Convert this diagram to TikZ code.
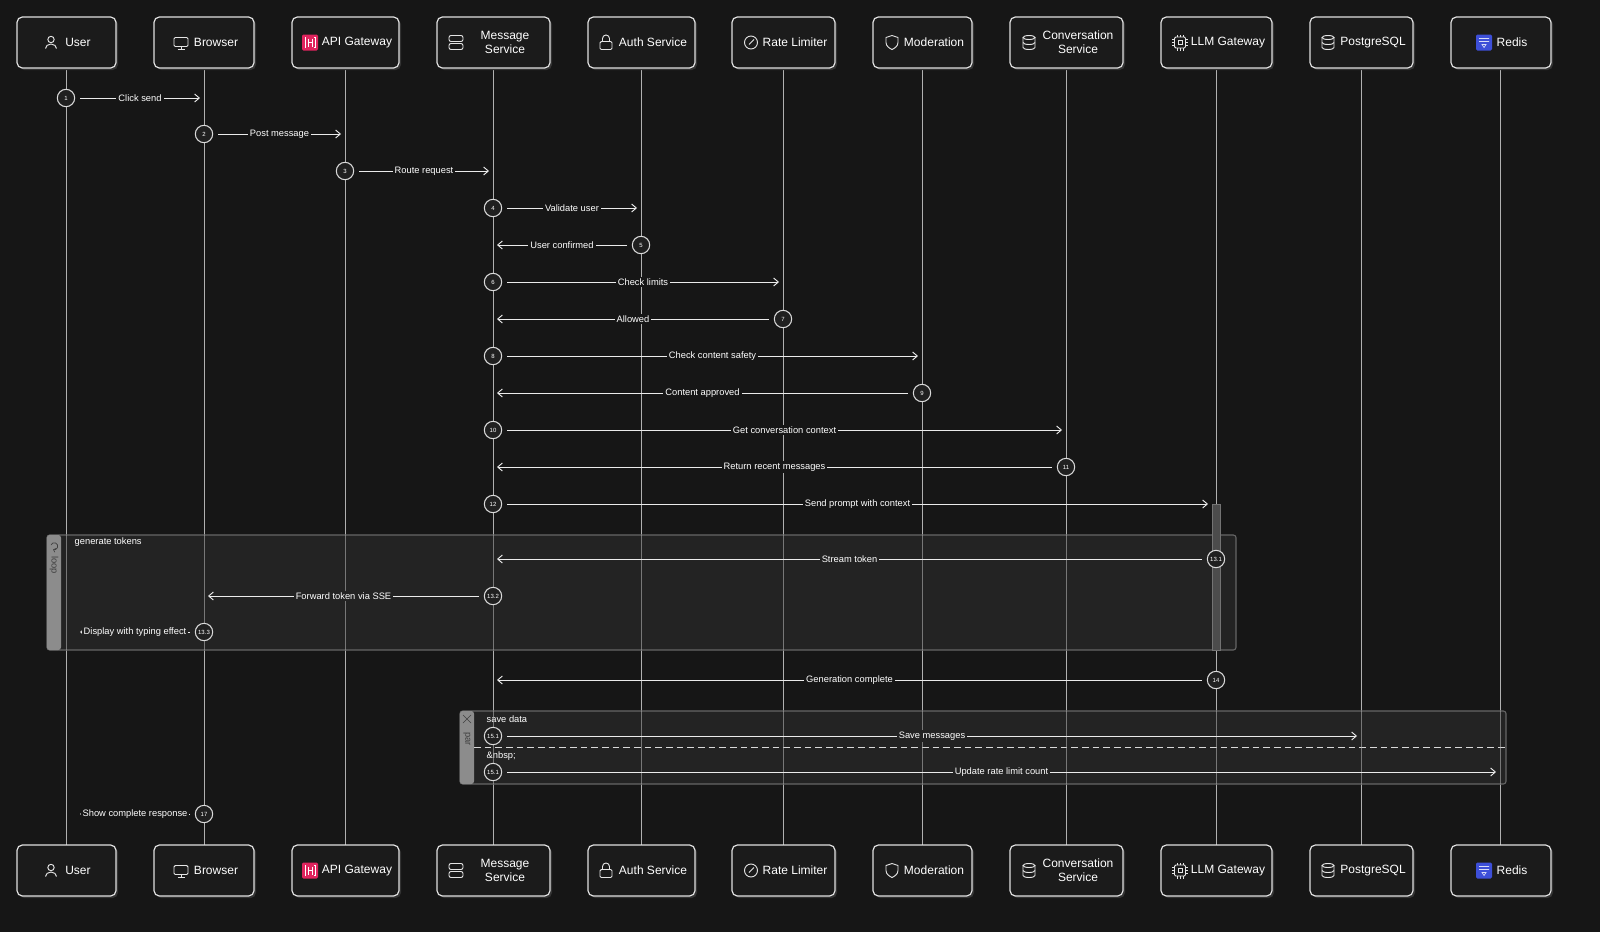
\documentclass[tikz,border=0pt]{standalone}
\usepackage{fontspec}
\setmainfont{Liberation Sans}
\usetikzlibrary{arrows.meta,shapes.geometric}
\definecolor{bg}{HTML}{161616}
\definecolor{boxbg}{HTML}{1B1B1B}
\definecolor{frag}{HTML}{232323}
\definecolor{life}{HTML}{B0B0B0}
\definecolor{pink}{HTML}{E0245E}
\definecolor{rblue}{HTML}{3D4FD8}
\definecolor{tab}{HTML}{8C8C8C}
\tikzset{
 part/.style={draw=white!88!black,line width=0.9pt,rounded corners=4pt,fill=boxbg},
 shadow/.style={fill=black!60!gray,rounded corners=4pt},
 ptext/.style={text=white,font=\fontsize{9}{10.5}\selectfont,align=center},
 lifeline/.style={draw=life,line width=0.7pt},
 msgline/.style={draw=white!92!black,line width=0.7pt,-{Straight Barb[length=3.5pt,width=6pt]}},
 mlabel/.style={fill=bg,text=white,font=\fontsize{7}{8}\selectfont,inner sep=1.5pt},
 flabel/.style={fill=frag,text=white,font=\fontsize{7}{8}\selectfont,inner sep=1.5pt},
 num/.style={circle,draw=white!85!black,line width=0.8pt,fill=gray!25!black,minimum size=13pt,inner sep=0pt,text=white,font=\fontsize{4.5}{5}\selectfont},
 icon/.style={draw=white!90!black,line width=0.7pt},
 fragbox/.style={fill=frag,draw=gray!80!black,line width=0.8pt,rounded corners=2pt},
 fragtab/.style={fill=tab},
 tabtext/.style={text=black!75,font=\fontsize{7}{8}\selectfont},
}
\newcommand\drawicon[3]{% type x y
 \ifcase#1\relax
  \draw[icon] (#2,#3-3) circle (3.2); \draw[icon] (#2-5.5,#3+6) arc (180:360:5.5 and 4.5);
 \or
  \draw[icon,rounded corners=1] (#2-7,#3-5) rectangle (#2+7,#3+4); \draw[icon] (#2,#3+4)--(#2,#3+7) (#2-3.5,#3+7)--(#2+3.5,#3+7);
 \or
  \fill[pink,rounded corners=1] (#2-8,#3-8) rectangle (#2+8,#3+8);
  \draw[white,line width=0.7pt] (#2-4,#3-5)--(#2-5,#3-5)--(#2-5,#3+5)--(#2-4,#3+5) (#2+4,#3-5)--(#2+5,#3-5)--(#2+5,#3+5)--(#2+4,#3+5) (#2-2,#3-4)--(#2-2,#3+4) (#2+2,#3-4)--(#2+2,#3+4) (#2-2,#3)--(#2+2,#3);
 \or
  \draw[icon,rounded corners=1.5] (#2-7,#3-7) rectangle (#2+7,#3-1); \draw[icon,rounded corners=1.5] (#2-7,#3+1) rectangle (#2+7,#3+7);
 \or
  \draw[icon,rounded corners=1] (#2-6,#3-1) rectangle (#2+6,#3+7); \draw[icon] (#2-3.5,#3-1)--(#2-3.5,#3-4) arc (180:360:3.5)--(#2+3.5,#3-1);
 \or
  \draw[icon] (#2,#3) circle (6.5); \draw[icon] (#2-2,#3+2)--(#2+3,#3-3);
 \or
  \draw[icon] (#2,#3-7)--(#2+6,#3-5)--(#2+6,#3)..controls (#2+6,#3+4) and (#2+2,#3+6)..(#2,#3+7)..controls (#2-2,#3+6) and (#2-6,#3+4)..(#2-6,#3)--(#2-6,#3-5)--cycle;
 \or
  \draw[icon] (#2,#3-5) ellipse (6 and 2); \draw[icon] (#2-6,#3-5)--(#2-6,#3+5) arc (180:0:6 and 2)--(#2+6,#3-5); \draw[icon] (#2-6,#3) arc (180:0:6 and 2);
 \or
  \draw[icon,rounded corners=1] (#2-5.5,#3-5.5) rectangle (#2+5.5,#3+5.5); \draw[icon] (#2-2,#3-2) rectangle (#2+2,#3+2);
  \foreach \d in {-3,0,3}{\draw[icon,line width=0.5pt] (#2+\d,#3-5.5)--(#2+\d,#3-8) (#2+\d,#3+5.5)--(#2+\d,#3+8) (#2-5.5,#3+\d)--(#2-8,#3+\d) (#2+5.5,#3+\d)--(#2+8,#3+\d);}
 \or
  \fill[rblue,rounded corners=1] (#2-8,#3-8) rectangle (#2+8,#3+8);
  \draw[white!80!rblue,line width=0.5pt] (#2-5,#3-4)--(#2+5,#3-4) (#2-5,#3-1)--(#2+5,#3-1) (#2-2,#3+2)--(#2+2,#3+2)--(#2,#3+5)--cycle;
 \fi}
\begin{document}
\begin{tikzpicture}[x=0.75pt,y=-0.75pt]
\fill[bg] (0,0) rectangle (1600,932);
\useasboundingbox (0,0) rectangle (1600,932);
% lifelines
\foreach \c in {66,204,345,493,641,783,922,1066,1216,1361,1500}{\draw[lifeline] (\c,68)--(\c,845);}
% fragments
\draw[fragbox] (47,535) rectangle (1236,650);
\fill[fragtab,rounded corners=2pt] (47,535) rectangle (61,650);
\node[rotate=-90,tabtext] (looplab) at (54,565) {loop};
\draw[black!75,line width=0.5pt,-{Straight Barb[length=1.5pt,width=3pt]}] (51,545) arc (200:470:3.5);
\node[anchor=west,text=white,font=\fontsize{7}{8}\selectfont] (gentok) at (70,542) {generate tokens};
\draw[fragbox] (460,711) rectangle (1506,784);
\fill[fragtab,rounded corners=2pt] (460,711) rectangle (474,784);
\node[rotate=-90,tabtext] (parlab) at (467,739) {par};
\draw[black!75,line width=0.5pt] (463,715)--(471,723) (463,723)--(471,715);
\node[anchor=west,text=white,font=\fontsize{7}{8}\selectfont] (savedata) at (482,719) {save data};
\node[anchor=west,text=white,font=\fontsize{7}{8}\selectfont] (nbsp) at (482,756) {\&nbsp;};
\draw[white!85!black,dash pattern=on 5pt off 3pt,line width=0.6pt] (474,747)--(1506,747);
% lifelines over fragments
\foreach \c in {66,204,345,493,641,783,922,1066,1216,1361,1500}{\draw[lifeline,opacity=0.6] (\c,535)--(\c,650) (\c,711)--(\c,784);}
% activation
\fill[gray!60!black] (1212,504) rectangle (1220,650);
\draw[gray!90!black,line width=0.5pt] (1212,504) rectangle (1220,650);
% participants
\foreach \l/\r/\ix/\tx/\t/\ic/\nm in {17/116/51/78/User/0/user,154/254/181/216/Browser/1/browser,292/399/310/357/API Gateway/2/api,437/550/456/505/Message\\Service/3/msgsvc,588/695/606/653/Auth Service/4/auth,732/835/751/795/Rate Limiter/5/rate,873/972/892/934/Moderation/6/mod,1010/1123/1029/1078/Conversation\\Service/7/conv,1161/1272/1180/1228/LLM Gateway/8/llm,1310/1413/1328/1373/PostgreSQL/7/pg,1451/1551/1484/1512/Redis/9/redis}{
 \foreach \yt/\yb/\sf in {17/68/top,845/896/bot}{
  \pgfmathsetmacro\ym{(\yt+\yb)/2}
  \fill[shadow] (\l+2,\yt+2) rectangle (\r+2,\yb+2);
  \draw[part] (\l,\yt) rectangle (\r,\yb);
  \node[ptext] (\nm-\sf) at (\tx,\ym) {\t};
  \drawicon{\ic}{\ix}{\ym}
 }
}
% messages
\newcommand\msg[7]{% y from to num label style id
 \pgfmathsetmacro\dir{(#3>#2)?1:-1}
 \node[num] (n#7) at (#2,#1) {#4};
 \coordinate (s#7) at ({#2+\dir*14},#1);
 \coordinate (e#7) at ({#3-\dir*4},#1);
 \draw[msgline] (s#7) -- node[#6] (l#7) {#5} (e#7);
}
\msg{98}{66}{204}{1}{Click send}{mlabel}{a}
\msg{134}{204}{345}{2}{Post message}{mlabel}{b}
\msg{171}{345}{493}{3}{Route request}{mlabel}{c}
\msg{208}{493}{641}{4}{Validate user}{mlabel}{d}
\msg{245}{641}{493}{5}{User confirmed}{mlabel}{e}
\msg{282}{493}{783}{6}{Check limits}{mlabel}{f}
\msg{319}{783}{493}{7}{Allowed}{mlabel}{g}
\msg{356}{493}{922}{8}{Check content safety}{mlabel}{h}
\msg{393}{922}{493}{9}{Content approved}{mlabel}{i}
\msg{430}{493}{1066}{10}{Get conversation context}{mlabel}{j}
\msg{467}{1066}{493}{11}{Return recent messages}{mlabel}{k}
\msg{504}{493}{1212}{12}{Send prompt with context}{mlabel}{l}
\msg{559}{1216}{493}{13.1}{Stream token}{flabel}{m}
\msg{596}{493}{204}{13.2}{Forward token via SSE}{flabel}{n}
\msg{632}{204}{76}{13.3}{Display with typing effect}{flabel}{o}
\msg{680}{1216}{493}{14}{Generation complete}{mlabel}{p}
\msg{736}{493}{1361}{15.1}{Save messages}{flabel}{q}
\msg{772}{493}{1500}{15.1}{Update rate limit count}{flabel}{r}
\msg{814}{204}{76}{17}{Show complete response}{mlabel}{s}
\end{tikzpicture}
\end{document}
